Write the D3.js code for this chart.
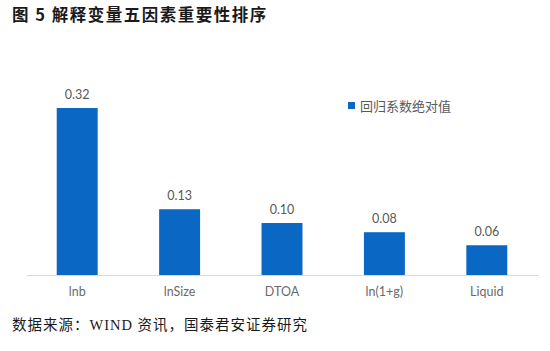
<!DOCTYPE html>
<html>
<head>
<meta charset="utf-8">
<script src="https://cdn.jsdelivr.net/npm/d3@7"></script>
<style>
  body { margin: 0; background: #fff; }
  svg { display: block; }
</style>
</head>
<body>
<svg id="chart"></svg>
<script>
const categories = ["lnb", "lnSize", "DTOA", "ln(1+g)", "Liquid"],
      values = [0.32, 0.126, 0.0996, 0.082, 0.057],
      seriesName = "回归系数绝对值",
      title = "图 5  解释变量五因素重要性排序",
      source = "数据来源：WIND 资讯，国泰君安证券研究";

const width = 550, height = 351;
const baseY = 275,
      left = 26, right = 538;

const svg = d3.select("#chart")
    .attr("width", width)
    .attr("height", height)

const x = d3.scaleBand()
    .domain(categories)
    .range([left, right])
    .paddingInner(0.6)
    .paddingOuter(0.3)

const y = d3.scaleLinear()
    .domain([0, 0.32])
    .range([baseY, 108])

// title
svg.append("text")
    .attr("x", 12)
    .attr("y", 21)
    .attr("font-family", "'Noto Sans CJK SC', sans-serif")
    .attr("font-weight", "bold")
    .attr("font-size", 16.5)
    .attr("letter-spacing", 1.5)
    .attr("fill", "#1a1a1a")
    .text(title)

// bars
svg.append("g").selectAll("rect")
    .data(values)
    .enter().append("rect")
    .attr("x", (d, i) => x(categories[i]))
    .attr("width", x.bandwidth())
    .attr("y", d => y(d))
    .attr("height", d => baseY - y(d))
    .attr("fill", "#0a67c3")

// value labels
svg.append("g").selectAll("text")
    .data(values)
    .enter().append("text")
    .attr("x", (d, i) => x(categories[i]) + x.bandwidth() / 2)
    .attr("y", d => y(d) - 9)
    .attr("text-anchor", "middle")
    .attr("font-family", "Lato, 'Open Sans', sans-serif")
    .attr("font-size", 12.5)
    .attr("fill", "#595959")
    .text(d => d.toFixed(2))

// category axis
const xAxis = d3.axisBottom(x).tickSize(0).tickPadding(12)
const axisG = svg.append("g")
    .attr("transform", `translate(0,${baseY})`)
    .call(xAxis)
axisG.select(".domain").attr("stroke", "#d9d9d9").attr("stroke-width", 1)
axisG.selectAll("text")
    .attr("font-family", "Lato, 'Open Sans', sans-serif")
    .attr("font-size", 12.5)
    .attr("fill", "#6a6a6a")

// legend
const legend = svg.append("g").attr("transform", "translate(348,102)")
legend.append("rect")
    .attr("width", 7).attr("height", 7)
    .attr("fill", "#0a67c3")
legend.append("text")
    .attr("x", 12).attr("y", 3.5)
    .attr("dominant-baseline", "central")
    .attr("font-family", "'Noto Sans CJK SC', sans-serif")
    .attr("font-size", 13)
    .attr("fill", "#595959")
    .text(seriesName)

// source note
svg.append("text")
    .attr("x", 12)
    .attr("y", 330)
    .attr("font-family", "'Liberation Serif', 'Noto Sans CJK SC', serif")
    .attr("font-size", 14.5)
    .attr("letter-spacing", 1)
    .attr("fill", "#1a1a1a")
    .text(source)
</script>
</body>
</html>
